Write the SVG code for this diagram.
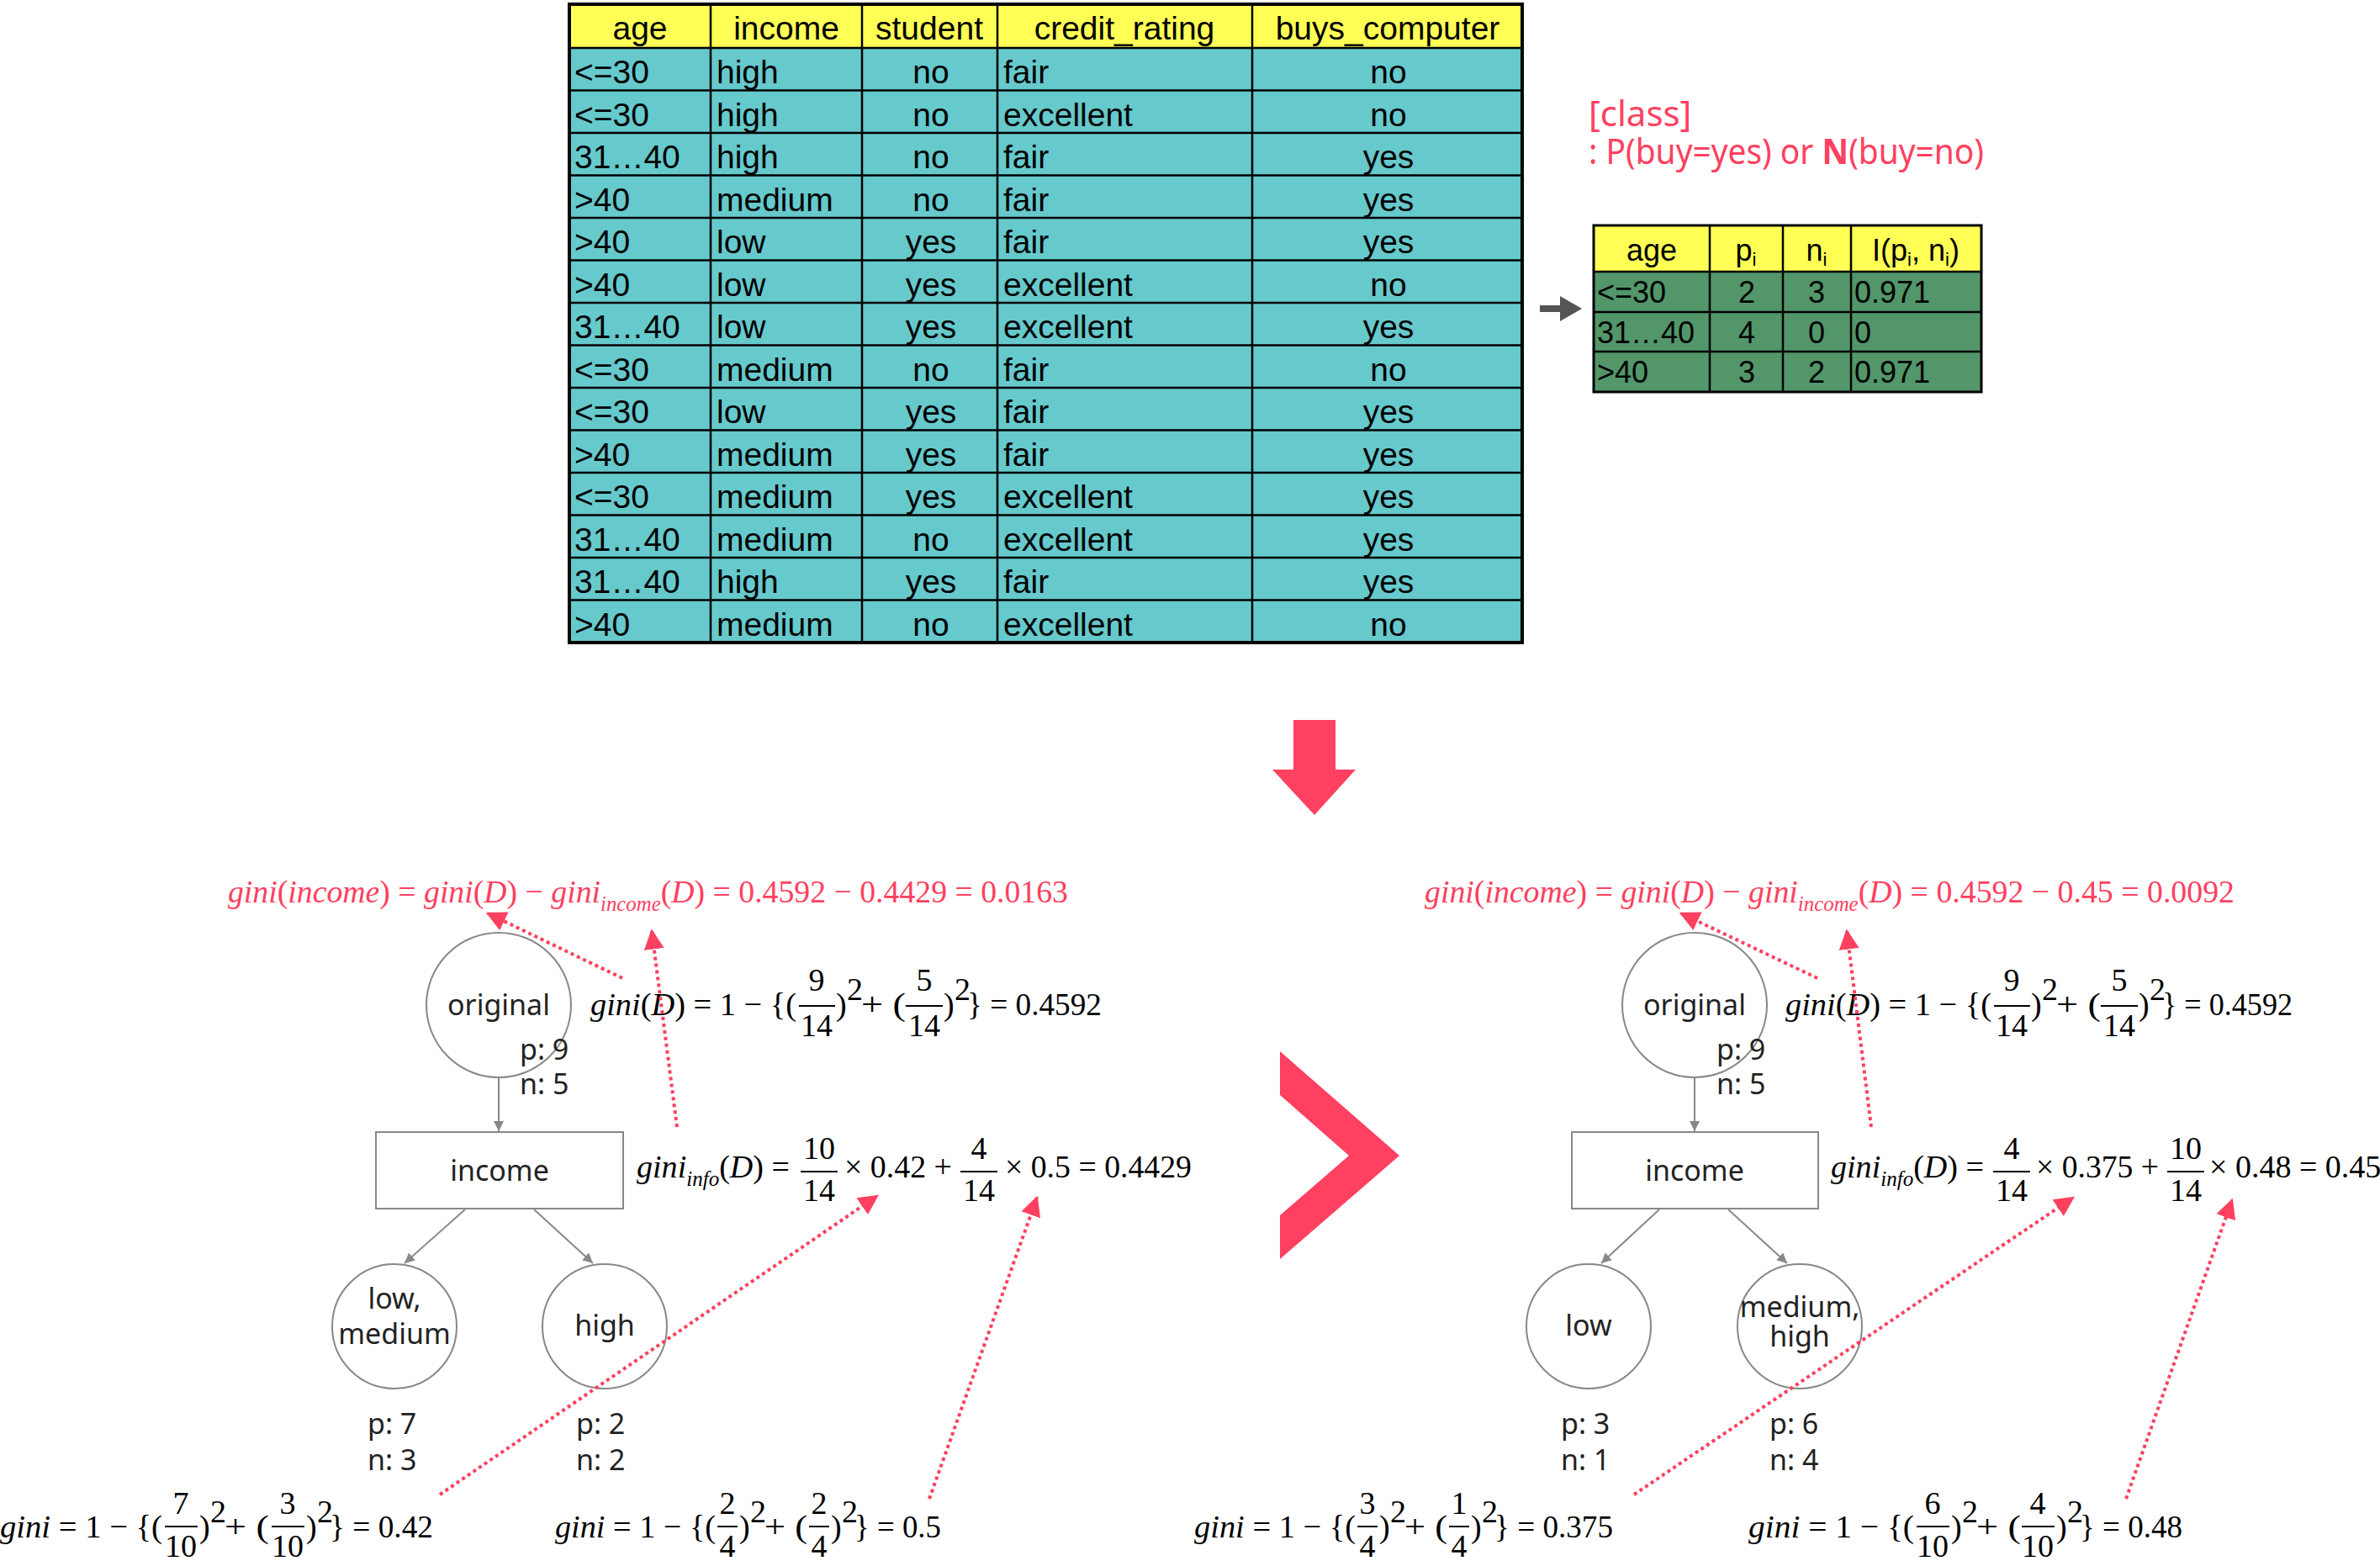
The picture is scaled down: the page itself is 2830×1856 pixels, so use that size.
<svg xmlns="http://www.w3.org/2000/svg" width="2830" height="1856" viewBox="0 0 2830 1856">
<style>
.tc{font-family:"Liberation Sans",Arial,sans-serif;font-size:39px;fill:#000}
.st{font-family:"Liberation Sans",Arial,sans-serif;font-size:36px;fill:#000}
.lab{font-family:"Noto Sans","Liberation Sans",sans-serif;font-size:34px;fill:#222}
.m{font-family:"Liberation Serif","Times New Roman",serif;font-size:38px;fill:#000}
.mr{font-family:"Liberation Serif","Times New Roman",serif;font-size:38px;fill:#ff4060}
.i{font-style:italic}
.cls{font-family:"Noto Sans","Liberation Sans",sans-serif;font-size:42px;fill:#ff4060}
.bar{stroke:#000;stroke-width:2}
.edge{stroke:#888;stroke-width:2;fill:none;marker-end:url(#ga)}
.red{stroke:#ff4060;stroke-width:4;stroke-dasharray:4 4;fill:none;marker-end:url(#ra)}
.node{fill:#fff;stroke:#888;stroke-width:2}
</style>
<defs>
<marker id="ga" viewBox="0 0 10 10" refX="10" refY="5" markerWidth="6" markerHeight="6" orient="auto"><path d="M0,0L10,5L0,10z" fill="#888"/></marker>
<marker id="ra" viewBox="0 0 10 10" refX="9" refY="5" markerWidth="6" markerHeight="7" orient="auto" markerUnits="strokeWidth"><path d="M0,0L10,5L0,10z" fill="#ff4060"/></marker>
</defs>
<rect width="2830" height="1856" fill="#fff"/>

<g id="data-table">
<rect x="677" y="5" width="1133" height="52" fill="#ffff55"/>
<rect x="677" y="57" width="1133" height="707" fill="#66c9cc"/>
<g stroke="#000" stroke-width="2.5">
<line x1="677" y1="57" x2="1810" y2="57"/>
<line x1="677" y1="107.5" x2="1810" y2="107.5"/><line x1="677" y1="158" x2="1810" y2="158"/><line x1="677" y1="208.5" x2="1810" y2="208.5"/><line x1="677" y1="259" x2="1810" y2="259"/><line x1="677" y1="309.5" x2="1810" y2="309.5"/><line x1="677" y1="360" x2="1810" y2="360"/><line x1="677" y1="410.5" x2="1810" y2="410.5"/><line x1="677" y1="461" x2="1810" y2="461"/><line x1="677" y1="511.5" x2="1810" y2="511.5"/><line x1="677" y1="562" x2="1810" y2="562"/><line x1="677" y1="612.5" x2="1810" y2="612.5"/><line x1="677" y1="663" x2="1810" y2="663"/><line x1="677" y1="713.5" x2="1810" y2="713.5"/>
<line x1="845" y1="5" x2="845" y2="764"/><line x1="1025" y1="5" x2="1025" y2="764"/><line x1="1186" y1="5" x2="1186" y2="764"/><line x1="1489" y1="5" x2="1489" y2="764"/>
</g>
<rect x="677" y="5" width="1133" height="759" fill="none" stroke="#000" stroke-width="4"/>
<g class="tc" text-anchor="middle">
<text x="761" y="47">age</text><text x="935" y="47">income</text><text x="1105" y="47">student</text><text x="1337" y="47">credit_rating</text><text x="1650" y="47">buys_computer</text>
</g>
<g class="tc">
<text x="683" y="99">&lt;=30</text><text x="683" y="150">&lt;=30</text><text x="683" y="200">31…40</text><text x="683" y="251">&gt;40</text><text x="683" y="301">&gt;40</text><text x="683" y="352">&gt;40</text><text x="683" y="402">31…40</text><text x="683" y="453">&lt;=30</text><text x="683" y="503">&lt;=30</text><text x="683" y="554">&gt;40</text><text x="683" y="604">&lt;=30</text><text x="683" y="655">31…40</text><text x="683" y="705">31…40</text><text x="683" y="756">&gt;40</text>
<text x="852" y="99">high</text><text x="852" y="150">high</text><text x="852" y="200">high</text><text x="852" y="251">medium</text><text x="852" y="301">low</text><text x="852" y="352">low</text><text x="852" y="402">low</text><text x="852" y="453">medium</text><text x="852" y="503">low</text><text x="852" y="554">medium</text><text x="852" y="604">medium</text><text x="852" y="655">medium</text><text x="852" y="705">high</text><text x="852" y="756">medium</text>
<text x="1193" y="99">fair</text><text x="1193" y="150">excellent</text><text x="1193" y="200">fair</text><text x="1193" y="251">fair</text><text x="1193" y="301">fair</text><text x="1193" y="352">excellent</text><text x="1193" y="402">excellent</text><text x="1193" y="453">fair</text><text x="1193" y="503">fair</text><text x="1193" y="554">fair</text><text x="1193" y="604">excellent</text><text x="1193" y="655">excellent</text><text x="1193" y="705">fair</text><text x="1193" y="756">excellent</text>
</g>
<g class="tc" text-anchor="middle">
<text x="1107" y="99">no</text><text x="1107" y="150">no</text><text x="1107" y="200">no</text><text x="1107" y="251">no</text><text x="1107" y="301">yes</text><text x="1107" y="352">yes</text><text x="1107" y="402">yes</text><text x="1107" y="453">no</text><text x="1107" y="503">yes</text><text x="1107" y="554">yes</text><text x="1107" y="604">yes</text><text x="1107" y="655">no</text><text x="1107" y="705">yes</text><text x="1107" y="756">no</text>
<text x="1651" y="99">no</text><text x="1651" y="150">no</text><text x="1651" y="200">yes</text><text x="1651" y="251">yes</text><text x="1651" y="301">yes</text><text x="1651" y="352">no</text><text x="1651" y="402">yes</text><text x="1651" y="453">no</text><text x="1651" y="503">yes</text><text x="1651" y="554">yes</text><text x="1651" y="604">yes</text><text x="1651" y="655">yes</text><text x="1651" y="705">yes</text><text x="1651" y="756">no</text>
</g>
</g>

<g id="class-label">
<text class="cls" x="1889" y="150">[class]</text>
<text class="cls" x="1889" y="195" textLength="470" lengthAdjust="spacingAndGlyphs">: P(buy=yes) or <tspan font-weight="bold">N</tspan>(buy=no)</text>
</g>

<g id="age-table">
<rect x="1895" y="268" width="461" height="55" fill="#ffff55"/>
<rect x="1895" y="323" width="461" height="143" fill="#52966a"/>
<g stroke="#000" stroke-width="2.5">
<line x1="1895" y1="323" x2="2356" y2="323"/><line x1="1895" y1="371" x2="2356" y2="371"/><line x1="1895" y1="418" x2="2356" y2="418"/>
<line x1="2033" y1="268" x2="2033" y2="466"/><line x1="2120" y1="268" x2="2120" y2="466"/><line x1="2201" y1="268" x2="2201" y2="466"/>
</g>
<rect x="1895" y="268" width="461" height="198" fill="none" stroke="#000" stroke-width="3"/>
<g class="st" text-anchor="middle">
<text x="1964" y="310">age</text>
<text x="2076" y="310">p<tspan font-size="22" dy="6">i</tspan></text>
<text x="2160" y="310">n<tspan font-size="22" dy="6">i</tspan></text>
<text x="2278" y="310">I(p<tspan font-size="22" dy="6">i</tspan><tspan dy="-6">, n</tspan><tspan font-size="22" dy="6">i</tspan><tspan dy="-6">)</tspan></text>
<text x="2077" y="360">2</text><text x="2160" y="360">3</text>
<text x="2077" y="408">4</text><text x="2160" y="408">0</text>
<text x="2077" y="455">3</text><text x="2160" y="455">2</text>
</g>
<g class="st">
<text x="1899" y="360">&lt;=30</text><text x="1899" y="408">31…40</text><text x="1899" y="455">&gt;40</text>
<text x="2205" y="360">0.971</text><text x="2205" y="408">0</text><text x="2205" y="455">0.971</text>
</g>
</g>
<g id="gray-arrow"><path d="M1831,363 h24 v-11 l26,15 l-26,15 v-11 h-24z" fill="#555"/></g>

<g id="down-arrow"><path d="M1538,856 h50 v59 h24 l-49,54 l-50,-54 h25z" fill="#ff4060"/></g>
<g id="chevron"><path d="M1522,1250 L1664,1374 L1522,1497 L1522,1445 L1604,1374 L1522,1302z" fill="#ff4060"/></g>

<g id="left-original"><circle class="node" cx="593" cy="1195" r="86"/><text class="lab" x="593" y="1207" text-anchor="middle">original</text><text class="lab" x="618" y="1260">p: 9</text><text class="lab" x="618" y="1301">n: 5</text></g>
<g id="left-income"><rect class="node" x="447" y="1346" width="294" height="91"/><text class="lab" x="594" y="1404" text-anchor="middle">income</text></g>
<g id="left-lowmed"><circle class="node" cx="469" cy="1577" r="74"/><text class="lab" x="469" y="1556" text-anchor="middle">low,</text><text class="lab" x="469" y="1598" text-anchor="middle">medium</text><text class="lab" x="437" y="1705">p: 7</text><text class="lab" x="437" y="1748">n: 3</text></g>
<g id="left-high"><circle class="node" cx="719" cy="1577" r="74"/><text class="lab" x="719" y="1588" text-anchor="middle">high</text><text class="lab" x="685" y="1705">p: 2</text><text class="lab" x="685" y="1748">n: 2</text></g>

<g id="right-original"><circle class="node" cx="2015" cy="1195" r="86"/><text class="lab" x="2015" y="1207" text-anchor="middle">original</text><text class="lab" x="2041" y="1260">p: 9</text><text class="lab" x="2041" y="1301">n: 5</text></g>
<g id="right-income"><rect class="node" x="1869" y="1346" width="293" height="91"/><text class="lab" x="2015" y="1404" text-anchor="middle">income</text></g>
<g id="right-low"><circle class="node" cx="1889" cy="1577" r="74"/><text class="lab" x="1889" y="1588" text-anchor="middle">low</text><text class="lab" x="1856" y="1705">p: 3</text><text class="lab" x="1856" y="1748">n: 1</text></g>
<g id="right-medhigh"><circle class="node" cx="2140" cy="1577" r="74"/><text class="lab" x="2140" y="1566" text-anchor="middle" font-size="31">medium,</text><text class="lab" x="2140" y="1601" text-anchor="middle" font-size="31">high</text><text class="lab" x="2104" y="1705">p: 6</text><text class="lab" x="2104" y="1748">n: 4</text></g>

<g id="left-gain"><text class="mr" x="271" y="1073" textLength="999" lengthAdjust="spacingAndGlyphs"><tspan class="i">gini</tspan>(<tspan class="i">income</tspan>) = <tspan class="i">gini</tspan>(<tspan class="i">D</tspan>) − <tspan class="i">gini</tspan><tspan class="i" font-size="25" dy="10">income</tspan><tspan dy="-10">(</tspan><tspan class="i">D</tspan>) = 0.4592 − 0.4429 = 0.0163</text></g>
<g id="right-gain"><text class="mr" x="1694" y="1073" textLength="963" lengthAdjust="spacingAndGlyphs"><tspan class="i">gini</tspan>(<tspan class="i">income</tspan>) = <tspan class="i">gini</tspan>(<tspan class="i">D</tspan>) − <tspan class="i">gini</tspan><tspan class="i" font-size="25" dy="10">income</tspan><tspan dy="-10">(</tspan><tspan class="i">D</tspan>) = 0.4592 − 0.45 = 0.0092</text></g>

<g id="left-giniD">
<text class="m" x="702" y="1207" textLength="245" lengthAdjust="spacingAndGlyphs"><tspan class="i">gini</tspan>(<tspan class="i">D</tspan>) = 1 − {(</text>
<text class="m" x="971" y="1178" text-anchor="middle">9</text><line class="bar" x1="950" y1="1196" x2="993" y2="1196"/><text class="m" x="971" y="1232" text-anchor="middle">14</text>
<text class="m" x="994" y="1207">)</text><text class="m" x="1007" y="1189" font-size="23">2</text>
<text class="m" x="1024" y="1207" textLength="53" lengthAdjust="spacingAndGlyphs">+ (</text>
<text class="m" x="1099" y="1178" text-anchor="middle">5</text><line class="bar" x1="1077" y1="1196" x2="1121" y2="1196"/><text class="m" x="1099" y="1232" text-anchor="middle">14</text>
<text class="m" x="1122" y="1207">)</text><text class="m" x="1135" y="1189" font-size="23">2</text>
<text class="m" x="1150" y="1207" textLength="160" lengthAdjust="spacingAndGlyphs">} = 0.4592</text>
</g>
<g id="right-giniD" transform="translate(1421,0)">
<text class="m" x="702" y="1207" textLength="245" lengthAdjust="spacingAndGlyphs"><tspan class="i">gini</tspan>(<tspan class="i">D</tspan>) = 1 − {(</text>
<text class="m" x="971" y="1178" text-anchor="middle">9</text><line class="bar" x1="950" y1="1196" x2="993" y2="1196"/><text class="m" x="971" y="1232" text-anchor="middle">14</text>
<text class="m" x="994" y="1207">)</text><text class="m" x="1007" y="1189" font-size="23">2</text>
<text class="m" x="1024" y="1207" textLength="53" lengthAdjust="spacingAndGlyphs">+ (</text>
<text class="m" x="1099" y="1178" text-anchor="middle">5</text><line class="bar" x1="1077" y1="1196" x2="1121" y2="1196"/><text class="m" x="1099" y="1232" text-anchor="middle">14</text>
<text class="m" x="1122" y="1207">)</text><text class="m" x="1135" y="1189" font-size="23">2</text>
<text class="m" x="1150" y="1207" textLength="155" lengthAdjust="spacingAndGlyphs">} = 0.4592</text>
</g>

<g id="left-giniinfo">
<text class="m" x="757" y="1400" textLength="182" lengthAdjust="spacingAndGlyphs"><tspan class="i">gini</tspan><tspan class="i" font-size="25" dy="10">info</tspan><tspan dy="-10">(</tspan><tspan class="i">D</tspan>) =</text>
<text class="m" x="974" y="1378" text-anchor="middle">10</text><line class="bar" x1="952" y1="1393" x2="996" y2="1393"/><text class="m" x="974" y="1428" text-anchor="middle">14</text>
<text class="m" x="1004" y="1400" textLength="128" lengthAdjust="spacingAndGlyphs">× 0.42 +</text>
<text class="m" x="1164" y="1378" text-anchor="middle">4</text><line class="bar" x1="1142" y1="1393" x2="1186" y2="1393"/><text class="m" x="1164" y="1428" text-anchor="middle">14</text>
<text class="m" x="1195" y="1400" textLength="222" lengthAdjust="spacingAndGlyphs">× 0.5 = 0.4429</text>
</g>
<g id="right-giniinfo">
<text class="m" x="2177" y="1400" textLength="182" lengthAdjust="spacingAndGlyphs"><tspan class="i">gini</tspan><tspan class="i" font-size="25" dy="10">info</tspan><tspan dy="-10">(</tspan><tspan class="i">D</tspan>) =</text>
<text class="m" x="2392" y="1378" text-anchor="middle">4</text><line class="bar" x1="2370" y1="1393" x2="2414" y2="1393"/><text class="m" x="2392" y="1428" text-anchor="middle">14</text>
<text class="m" x="2421" y="1400" textLength="146" lengthAdjust="spacingAndGlyphs">× 0.375 +</text>
<text class="m" x="2599" y="1378" text-anchor="middle">10</text><line class="bar" x1="2577" y1="1393" x2="2621" y2="1393"/><text class="m" x="2599" y="1428" text-anchor="middle">14</text>
<text class="m" x="2627" y="1400">× 0.48 = 0.45</text>
</g>

<g id="left-gini-lowmed">
<text class="m" x="0" y="1828" textLength="193" lengthAdjust="spacingAndGlyphs"><tspan class="i">gini</tspan> = 1 − {(</text>
<text class="m" x="215" y="1800" text-anchor="middle">7</text><line class="bar" x1="196" y1="1815" x2="235" y2="1815"/><text class="m" x="215" y="1851" text-anchor="middle">10</text>
<text class="m" x="237" y="1828">)</text><text class="m" x="250" y="1810" font-size="23">2</text>
<text class="m" x="267" y="1828" textLength="53" lengthAdjust="spacingAndGlyphs">+ (</text>
<text class="m" x="342" y="1800" text-anchor="middle">3</text><line class="bar" x1="323" y1="1815" x2="362" y2="1815"/><text class="m" x="342" y="1851" text-anchor="middle">10</text>
<text class="m" x="364" y="1828">)</text><text class="m" x="377" y="1810" font-size="23">2</text>
<text class="m" x="392" y="1828" textLength="123" lengthAdjust="spacingAndGlyphs">} = 0.42</text>
</g>
<g id="left-gini-high">
<text class="m" x="660" y="1828" textLength="191" lengthAdjust="spacingAndGlyphs"><tspan class="i">gini</tspan> = 1 − {(</text>
<text class="m" x="865" y="1800" text-anchor="middle">2</text><line class="bar" x1="853" y1="1815" x2="877" y2="1815"/><text class="m" x="865" y="1851" text-anchor="middle">4</text>
<text class="m" x="879" y="1828">)</text><text class="m" x="892" y="1810" font-size="23">2</text>
<text class="m" x="909" y="1828" textLength="51" lengthAdjust="spacingAndGlyphs">+ (</text>
<text class="m" x="974" y="1800" text-anchor="middle">2</text><line class="bar" x1="962" y1="1815" x2="986" y2="1815"/><text class="m" x="974" y="1851" text-anchor="middle">4</text>
<text class="m" x="988" y="1828">)</text><text class="m" x="1001" y="1810" font-size="23">2</text>
<text class="m" x="1016" y="1828" textLength="103" lengthAdjust="spacingAndGlyphs">} = 0.5</text>
</g>
<g id="right-gini-low">
<text class="m" x="1420" y="1828" textLength="192" lengthAdjust="spacingAndGlyphs"><tspan class="i">gini</tspan> = 1 − {(</text>
<text class="m" x="1626" y="1800" text-anchor="middle">3</text><line class="bar" x1="1614" y1="1815" x2="1638" y2="1815"/><text class="m" x="1626" y="1851" text-anchor="middle">4</text>
<text class="m" x="1640" y="1828">)</text><text class="m" x="1653" y="1810" font-size="23">2</text>
<text class="m" x="1670" y="1828" textLength="51" lengthAdjust="spacingAndGlyphs">+ (</text>
<text class="m" x="1735" y="1800" text-anchor="middle">1</text><line class="bar" x1="1723" y1="1815" x2="1747" y2="1815"/><text class="m" x="1735" y="1851" text-anchor="middle">4</text>
<text class="m" x="1749" y="1828">)</text><text class="m" x="1762" y="1810" font-size="23">2</text>
<text class="m" x="1777" y="1828" textLength="141" lengthAdjust="spacingAndGlyphs">} = 0.375</text>
</g>
<g id="right-gini-medhigh">
<text class="m" x="2079" y="1828" textLength="197" lengthAdjust="spacingAndGlyphs"><tspan class="i">gini</tspan> = 1 − {(</text>
<text class="m" x="2298" y="1800" text-anchor="middle">6</text><line class="bar" x1="2279" y1="1815" x2="2318" y2="1815"/><text class="m" x="2298" y="1851" text-anchor="middle">10</text>
<text class="m" x="2320" y="1828">)</text><text class="m" x="2333" y="1810" font-size="23">2</text>
<text class="m" x="2350" y="1828" textLength="53" lengthAdjust="spacingAndGlyphs">+ (</text>
<text class="m" x="2423" y="1800" text-anchor="middle">4</text><line class="bar" x1="2404" y1="1815" x2="2443" y2="1815"/><text class="m" x="2423" y="1851" text-anchor="middle">10</text>
<text class="m" x="2445" y="1828">)</text><text class="m" x="2458" y="1810" font-size="23">2</text>
<text class="m" x="2473" y="1828" textLength="122" lengthAdjust="spacingAndGlyphs">} = 0.48</text>
</g>

<g id="connectors">
<line class="edge" x1="593" y1="1281" x2="593" y2="1345"/>
<line class="edge" x1="553" y1="1438" x2="481" y2="1502"/>
<line class="edge" x1="635" y1="1438" x2="705" y2="1502"/>
<line class="edge" x1="2015" y1="1281" x2="2015" y2="1345"/>
<line class="edge" x1="1973" y1="1438" x2="1904" y2="1502"/>
<line class="edge" x1="2055" y1="1438" x2="2125" y2="1502"/>
<line class="red" x1="740" y1="1163" x2="580" y2="1086"/>
<line class="red" x1="805" y1="1340" x2="775" y2="1107"/>
<line class="red" x1="523" y1="1777" x2="1043" y2="1422"/>
<line class="red" x1="1105" y1="1782" x2="1233" y2="1424"/>
<line class="red" x1="2161" y1="1163" x2="1999" y2="1086"/>
<line class="red" x1="2225" y1="1340" x2="2196" y2="1107"/>
<line class="red" x1="1943" y1="1777" x2="2465" y2="1424"/>
<line class="red" x1="2528" y1="1782" x2="2654" y2="1427"/>
</g>
</svg>
